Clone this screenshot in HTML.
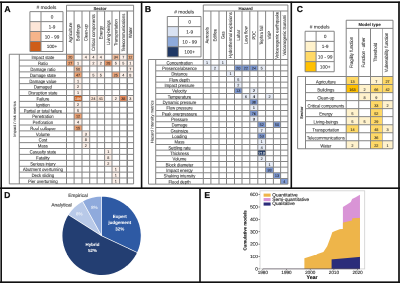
<!DOCTYPE html>
<html><head><meta charset="utf-8"><style>
html,body{margin:0;padding:0;background:#fff;width:400px;height:284px;overflow:hidden;position:relative;font-family:"Liberation Sans", sans-serif;}
</style></head><body>
<div style="position:absolute;left:0;top:0;width:800px;height:568px;transform:scale(0.5);transform-origin:0 0;will-change:transform">
<svg width="800" height="568" viewBox="0 0 400 284" style="position:absolute;left:0;top:0" font-family='"Liberation Sans", sans-serif' text-rendering="geometricPrecision">
<g>
<rect x="0.00" y="0.00" width="400.00" height="284.00" fill="#fff" stroke="none" stroke-width="0"/>
<text transform="translate(7.50,9.00)" font-size="8.60" text-anchor="middle" dominant-baseline="central" font-weight="bold" fill="#111" stroke="#111" stroke-width="0.25" >A</text>
<text transform="translate(46.45,8.70)" font-size="4.90" text-anchor="middle" dominant-baseline="central" font-weight="normal" fill="#222" stroke="#222" stroke-width="0.06" ># models</text>
<rect x="29.90" y="11.60" width="11.10" height="9.98" fill="#ffffff" stroke="none" stroke-width="0"/>
<text transform="translate(52.00,16.79)" font-size="4.70" text-anchor="middle" dominant-baseline="central" font-weight="normal" fill="#222" stroke="#222" stroke-width="0.06" >0</text>
<rect x="29.90" y="21.58" width="11.10" height="9.98" fill="#fde6d8" stroke="none" stroke-width="0"/>
<text transform="translate(52.00,26.77)" font-size="4.70" text-anchor="middle" dominant-baseline="central" font-weight="normal" fill="#222" stroke="#222" stroke-width="0.06" >1-9</text>
<rect x="29.90" y="31.56" width="11.10" height="9.98" fill="#f6b48a" stroke="none" stroke-width="0"/>
<text transform="translate(52.00,36.75)" font-size="4.70" text-anchor="middle" dominant-baseline="central" font-weight="normal" fill="#222" stroke="#222" stroke-width="0.06" >10 - 99</text>
<rect x="29.90" y="41.54" width="11.10" height="9.98" fill="#cf5d18" stroke="none" stroke-width="0"/>
<text transform="translate(52.00,46.73)" font-size="4.70" text-anchor="middle" dominant-baseline="central" font-weight="normal" fill="#222" stroke="#222" stroke-width="0.06" >100+</text>
<line x1="29.90" y1="11.60" x2="63.00" y2="11.60" stroke="#858585" stroke-width="1.0"/>
<line x1="29.90" y1="21.58" x2="63.00" y2="21.58" stroke="#858585" stroke-width="1.0"/>
<line x1="29.90" y1="31.56" x2="63.00" y2="31.56" stroke="#858585" stroke-width="1.0"/>
<line x1="29.90" y1="41.54" x2="63.00" y2="41.54" stroke="#858585" stroke-width="1.0"/>
<line x1="29.90" y1="51.52" x2="63.00" y2="51.52" stroke="#858585" stroke-width="1.0"/>
<line x1="29.90" y1="11.60" x2="29.90" y2="51.52" stroke="#858585" stroke-width="1.0"/>
<line x1="41.00" y1="11.60" x2="41.00" y2="51.52" stroke="#858585" stroke-width="1.0"/>
<line x1="63.00" y1="11.60" x2="63.00" y2="51.52" stroke="#858585" stroke-width="1.0"/>
<rect x="66.50" y="54.20" width="7.60" height="5.90" fill="#f3ae82" stroke="none" stroke-width="0"/>
<rect x="82.00" y="54.20" width="7.70" height="5.90" fill="#fdf1ea" stroke="none" stroke-width="0"/>
<rect x="89.70" y="54.20" width="7.40" height="5.90" fill="#fdf1ea" stroke="none" stroke-width="0"/>
<rect x="97.10" y="54.20" width="7.50" height="5.90" fill="#fdf1ea" stroke="none" stroke-width="0"/>
<rect x="112.00" y="54.20" width="7.60" height="5.90" fill="#f7c3a2" stroke="none" stroke-width="0"/>
<rect x="119.60" y="54.20" width="7.40" height="5.90" fill="#fdf1ea" stroke="none" stroke-width="0"/>
<rect x="127.00" y="54.20" width="6.60" height="5.90" fill="#f5b68c" stroke="none" stroke-width="0"/>
<rect x="66.50" y="60.10" width="7.60" height="5.90" fill="#f1a676" stroke="none" stroke-width="0"/>
<rect x="74.10" y="60.10" width="7.90" height="5.90" fill="#fdf1ea" stroke="none" stroke-width="0"/>
<rect x="89.70" y="60.10" width="7.40" height="5.90" fill="#fdf1ea" stroke="none" stroke-width="0"/>
<rect x="97.10" y="60.10" width="7.50" height="5.90" fill="#fdf1ea" stroke="none" stroke-width="0"/>
<rect x="104.60" y="60.10" width="7.40" height="5.90" fill="#ef9c6a" stroke="none" stroke-width="0"/>
<rect x="112.00" y="60.10" width="7.60" height="5.90" fill="#fdf1ea" stroke="none" stroke-width="0"/>
<rect x="119.60" y="60.10" width="7.40" height="5.90" fill="#fdf1ea" stroke="none" stroke-width="0"/>
<rect x="127.00" y="60.10" width="6.60" height="5.90" fill="#fdf1ea" stroke="none" stroke-width="0"/>
<rect x="74.10" y="65.99" width="7.90" height="5.90" fill="#f6c2a2" stroke="none" stroke-width="0"/>
<rect x="127.00" y="65.99" width="6.60" height="5.90" fill="#fdf1ea" stroke="none" stroke-width="0"/>
<rect x="74.10" y="71.89" width="7.90" height="5.90" fill="#f1a676" stroke="none" stroke-width="0"/>
<rect x="89.70" y="71.89" width="7.40" height="5.90" fill="#fdf1ea" stroke="none" stroke-width="0"/>
<rect x="97.10" y="71.89" width="7.50" height="5.90" fill="#fdf1ea" stroke="none" stroke-width="0"/>
<rect x="112.00" y="71.89" width="7.60" height="5.90" fill="#f3ab80" stroke="none" stroke-width="0"/>
<rect x="119.60" y="71.89" width="7.40" height="5.90" fill="#fdf1ea" stroke="none" stroke-width="0"/>
<rect x="127.00" y="71.89" width="6.60" height="5.90" fill="#fdf1ea" stroke="none" stroke-width="0"/>
<rect x="74.10" y="77.78" width="7.90" height="5.90" fill="#fdf1ea" stroke="none" stroke-width="0"/>
<rect x="74.10" y="83.68" width="7.90" height="5.90" fill="#fdf1ea" stroke="none" stroke-width="0"/>
<rect x="74.10" y="89.57" width="7.90" height="5.90" fill="#fdf1ea" stroke="none" stroke-width="0"/>
<rect x="74.10" y="95.47" width="7.90" height="5.90" fill="#cf5d18" stroke="none" stroke-width="0"/>
<rect x="89.70" y="95.47" width="7.40" height="5.90" fill="#fce6d8" stroke="none" stroke-width="0"/>
<rect x="97.10" y="95.47" width="7.50" height="5.90" fill="#fce6d8" stroke="none" stroke-width="0"/>
<rect x="112.00" y="95.47" width="7.60" height="5.90" fill="#fdf1ea" stroke="none" stroke-width="0"/>
<rect x="119.60" y="95.47" width="7.40" height="5.90" fill="#ee8f5e" stroke="none" stroke-width="0"/>
<rect x="127.00" y="95.47" width="6.60" height="5.90" fill="#fdf1ea" stroke="none" stroke-width="0"/>
<rect x="74.10" y="101.36" width="7.90" height="5.90" fill="#fdf1ea" stroke="none" stroke-width="0"/>
<rect x="74.10" y="107.26" width="7.90" height="5.90" fill="#fdf1ea" stroke="none" stroke-width="0"/>
<rect x="74.10" y="113.15" width="7.90" height="5.90" fill="#f0a272" stroke="none" stroke-width="0"/>
<rect x="74.10" y="119.05" width="7.90" height="5.90" fill="#fdf1ea" stroke="none" stroke-width="0"/>
<rect x="74.10" y="124.95" width="7.90" height="5.90" fill="#f0a272" stroke="none" stroke-width="0"/>
<rect x="82.00" y="130.84" width="7.70" height="5.90" fill="#fdf1ea" stroke="none" stroke-width="0"/>
<rect x="82.00" y="136.74" width="7.70" height="5.90" fill="#fdf1ea" stroke="none" stroke-width="0"/>
<rect x="82.00" y="142.63" width="7.70" height="5.90" fill="#fdf1ea" stroke="none" stroke-width="0"/>
<rect x="104.60" y="148.53" width="7.40" height="5.90" fill="#fdf1ea" stroke="none" stroke-width="0"/>
<rect x="104.60" y="154.42" width="7.40" height="5.90" fill="#fdf1ea" stroke="none" stroke-width="0"/>
<rect x="104.60" y="160.32" width="7.40" height="5.90" fill="#fdf1ea" stroke="none" stroke-width="0"/>
<rect x="112.00" y="166.21" width="7.60" height="5.90" fill="#fdf1ea" stroke="none" stroke-width="0"/>
<rect x="112.00" y="172.11" width="7.60" height="5.90" fill="#fdf1ea" stroke="none" stroke-width="0"/>
<rect x="112.00" y="178.00" width="7.60" height="5.90" fill="#fdf1ea" stroke="none" stroke-width="0"/>
<line x1="66.50" y1="5.30" x2="133.60" y2="5.30" stroke="#858585" stroke-width="1.0"/>
<line x1="66.50" y1="11.00" x2="133.60" y2="11.00" stroke="#858585" stroke-width="1.0"/>
<text transform="translate(100.05,8.45)" font-size="4.25" text-anchor="middle" dominant-baseline="central" font-weight="bold" fill="#222" stroke="#222" stroke-width="0.06" >Sector</text>
<text transform="translate(70.30,32.60) rotate(-90) scale(0.8928571428571428,1.0)" font-size="4.70" text-anchor="middle" dominant-baseline="central" font-weight="normal" fill="#222" stroke="#222" stroke-width="0.06" >Agriculture</text>
<text transform="translate(78.05,32.60) rotate(-90) scale(0.8928571428571428,1.0)" font-size="4.70" text-anchor="middle" dominant-baseline="central" font-weight="normal" fill="#222" stroke="#222" stroke-width="0.06" >Buildings</text>
<text transform="translate(85.85,32.60) rotate(-90) scale(0.8928571428571428,1.0)" font-size="4.70" text-anchor="middle" dominant-baseline="central" font-weight="normal" fill="#222" stroke="#222" stroke-width="0.06" >Clean-up</text>
<text transform="translate(93.40,32.60) rotate(-90) scale(0.8928571428571428,1.0)" font-size="4.70" text-anchor="middle" dominant-baseline="central" font-weight="normal" fill="#222" stroke="#222" stroke-width="0.06" >Critical components</text>
<text transform="translate(100.85,32.60) rotate(-90) scale(0.8928571428571428,1.0)" font-size="4.70" text-anchor="middle" dominant-baseline="central" font-weight="normal" fill="#222" stroke="#222" stroke-width="0.06" >Energy</text>
<text transform="translate(108.30,32.60) rotate(-90) scale(0.8928571428571428,1.0)" font-size="4.70" text-anchor="middle" dominant-baseline="central" font-weight="normal" fill="#222" stroke="#222" stroke-width="0.06" >Living-beings</text>
<text transform="translate(115.80,32.60) rotate(-90) scale(0.8928571428571428,1.0)" font-size="4.70" text-anchor="middle" dominant-baseline="central" font-weight="normal" fill="#222" stroke="#222" stroke-width="0.06" >Transportation</text>
<text transform="translate(123.30,32.60) rotate(-90) scale(0.8928571428571428,1.0)" font-size="4.70" text-anchor="middle" dominant-baseline="central" font-weight="normal" fill="#222" stroke="#222" stroke-width="0.06" >Telecommunications</text>
<text transform="translate(130.30,32.60) rotate(-90) scale(0.8928571428571428,1.0)" font-size="4.70" text-anchor="middle" dominant-baseline="central" font-weight="normal" fill="#222" stroke="#222" stroke-width="0.06" >Water</text>
<line x1="66.50" y1="5.30" x2="66.50" y2="183.90" stroke="#858585" stroke-width="1.0"/>
<line x1="74.10" y1="11.00" x2="74.10" y2="183.90" stroke="#858585" stroke-width="1.0"/>
<line x1="82.00" y1="11.00" x2="82.00" y2="183.90" stroke="#858585" stroke-width="1.0"/>
<line x1="89.70" y1="11.00" x2="89.70" y2="183.90" stroke="#858585" stroke-width="1.0"/>
<line x1="97.10" y1="11.00" x2="97.10" y2="183.90" stroke="#858585" stroke-width="1.0"/>
<line x1="104.60" y1="11.00" x2="104.60" y2="183.90" stroke="#858585" stroke-width="1.0"/>
<line x1="112.00" y1="11.00" x2="112.00" y2="183.90" stroke="#858585" stroke-width="1.0"/>
<line x1="119.60" y1="11.00" x2="119.60" y2="183.90" stroke="#858585" stroke-width="1.0"/>
<line x1="127.00" y1="11.00" x2="127.00" y2="183.90" stroke="#858585" stroke-width="1.0"/>
<line x1="133.60" y1="5.30" x2="133.60" y2="183.90" stroke="#858585" stroke-width="1.0"/>
<line x1="9.30" y1="54.20" x2="133.60" y2="54.20" stroke="#858585" stroke-width="1.0"/>
<line x1="19.30" y1="60.10" x2="133.60" y2="60.10" stroke="#858585" stroke-width="1.0"/>
<line x1="19.30" y1="65.99" x2="133.60" y2="65.99" stroke="#858585" stroke-width="1.0"/>
<line x1="19.30" y1="71.89" x2="133.60" y2="71.89" stroke="#858585" stroke-width="1.0"/>
<line x1="19.30" y1="77.78" x2="133.60" y2="77.78" stroke="#858585" stroke-width="1.0"/>
<line x1="19.30" y1="83.68" x2="133.60" y2="83.68" stroke="#858585" stroke-width="1.0"/>
<line x1="19.30" y1="89.57" x2="133.60" y2="89.57" stroke="#858585" stroke-width="1.0"/>
<line x1="19.30" y1="95.47" x2="133.60" y2="95.47" stroke="#858585" stroke-width="1.0"/>
<line x1="19.30" y1="101.36" x2="133.60" y2="101.36" stroke="#858585" stroke-width="1.0"/>
<line x1="19.30" y1="107.26" x2="133.60" y2="107.26" stroke="#858585" stroke-width="1.0"/>
<line x1="19.30" y1="113.15" x2="133.60" y2="113.15" stroke="#858585" stroke-width="1.0"/>
<line x1="19.30" y1="119.05" x2="133.60" y2="119.05" stroke="#858585" stroke-width="1.0"/>
<line x1="19.30" y1="124.95" x2="133.60" y2="124.95" stroke="#858585" stroke-width="1.0"/>
<line x1="19.30" y1="130.84" x2="133.60" y2="130.84" stroke="#858585" stroke-width="1.0"/>
<line x1="19.30" y1="136.74" x2="133.60" y2="136.74" stroke="#858585" stroke-width="1.0"/>
<line x1="19.30" y1="142.63" x2="133.60" y2="142.63" stroke="#858585" stroke-width="1.0"/>
<line x1="19.30" y1="148.53" x2="133.60" y2="148.53" stroke="#858585" stroke-width="1.0"/>
<line x1="19.30" y1="154.42" x2="133.60" y2="154.42" stroke="#858585" stroke-width="1.0"/>
<line x1="19.30" y1="160.32" x2="133.60" y2="160.32" stroke="#858585" stroke-width="1.0"/>
<line x1="19.30" y1="166.21" x2="133.60" y2="166.21" stroke="#858585" stroke-width="1.0"/>
<line x1="19.30" y1="172.11" x2="133.60" y2="172.11" stroke="#858585" stroke-width="1.0"/>
<line x1="19.30" y1="178.00" x2="133.60" y2="178.00" stroke="#858585" stroke-width="1.0"/>
<line x1="9.30" y1="183.90" x2="133.60" y2="183.90" stroke="#858585" stroke-width="1.0"/>
<line x1="9.30" y1="54.20" x2="9.30" y2="183.90" stroke="#858585" stroke-width="1.0"/>
<line x1="19.30" y1="54.20" x2="19.30" y2="183.90" stroke="#858585" stroke-width="1.0"/>
<text transform="translate(14.30,119.05) rotate(-90)" font-size="4.00" text-anchor="middle" dominant-baseline="central" font-weight="normal" fill="#222" stroke="#222" stroke-width="0.06" >Impact / risk metrics</text>
<text transform="translate(42.90,57.70) scale(0.8928571428571428,1.0)" font-size="4.70" text-anchor="middle" dominant-baseline="central" font-weight="normal" fill="#222" stroke="#222" stroke-width="0.06" >Impact state</text>
<text transform="translate(42.90,63.59) scale(0.8928571428571428,1.0)" font-size="4.70" text-anchor="middle" dominant-baseline="central" font-weight="normal" fill="#222" stroke="#222" stroke-width="0.06" >Ratio</text>
<text transform="translate(42.90,69.49) scale(0.8928571428571428,1.0)" font-size="4.70" text-anchor="middle" dominant-baseline="central" font-weight="normal" fill="#222" stroke="#222" stroke-width="0.06" >Damage ratio</text>
<text transform="translate(42.90,75.38) scale(0.8928571428571428,1.0)" font-size="4.70" text-anchor="middle" dominant-baseline="central" font-weight="normal" fill="#222" stroke="#222" stroke-width="0.06" >Damage state</text>
<text transform="translate(42.90,81.28) scale(0.8928571428571428,1.0)" font-size="4.70" text-anchor="middle" dominant-baseline="central" font-weight="normal" fill="#222" stroke="#222" stroke-width="0.06" >Damage value</text>
<text transform="translate(42.90,87.17) scale(0.8928571428571428,1.0)" font-size="4.70" text-anchor="middle" dominant-baseline="central" font-weight="normal" fill="#222" stroke="#222" stroke-width="0.06" >Damaged</text>
<text transform="translate(42.90,93.07) scale(0.8928571428571428,1.0)" font-size="4.70" text-anchor="middle" dominant-baseline="central" font-weight="normal" fill="#222" stroke="#222" stroke-width="0.06" >Disruption state</text>
<text transform="translate(42.90,98.97) scale(0.8928571428571428,1.0)" font-size="4.70" text-anchor="middle" dominant-baseline="central" font-weight="normal" fill="#222" stroke="#222" stroke-width="0.06" >Failure</text>
<text transform="translate(42.90,104.86) scale(0.8928571428571428,1.0)" font-size="4.70" text-anchor="middle" dominant-baseline="central" font-weight="normal" fill="#222" stroke="#222" stroke-width="0.06" >Ignition</text>
<text transform="translate(42.90,110.76) scale(0.8928571428571428,1.0)" font-size="4.70" text-anchor="middle" dominant-baseline="central" font-weight="normal" fill="#222" stroke="#222" stroke-width="0.06" >Partial or total failure</text>
<text transform="translate(42.90,116.65) scale(0.8928571428571428,1.0)" font-size="4.70" text-anchor="middle" dominant-baseline="central" font-weight="normal" fill="#222" stroke="#222" stroke-width="0.06" >Penetration</text>
<text transform="translate(42.90,122.55) scale(0.8928571428571428,1.0)" font-size="4.70" text-anchor="middle" dominant-baseline="central" font-weight="normal" fill="#222" stroke="#222" stroke-width="0.06" >Perforation</text>
<text transform="translate(42.90,128.44) scale(0.8928571428571428,1.0)" font-size="4.70" text-anchor="middle" dominant-baseline="central" font-weight="normal" fill="#222" stroke="#222" stroke-width="0.06" >Roof collapse</text>
<text transform="translate(42.90,134.34) scale(0.8928571428571428,1.0)" font-size="4.70" text-anchor="middle" dominant-baseline="central" font-weight="normal" fill="#222" stroke="#222" stroke-width="0.06" >Volume</text>
<text transform="translate(42.90,140.23) scale(0.8928571428571428,1.0)" font-size="4.70" text-anchor="middle" dominant-baseline="central" font-weight="normal" fill="#222" stroke="#222" stroke-width="0.06" >Cost</text>
<text transform="translate(42.90,146.13) scale(0.8928571428571428,1.0)" font-size="4.70" text-anchor="middle" dominant-baseline="central" font-weight="normal" fill="#222" stroke="#222" stroke-width="0.06" >Mass</text>
<text transform="translate(42.90,152.03) scale(0.8928571428571428,1.0)" font-size="4.70" text-anchor="middle" dominant-baseline="central" font-weight="normal" fill="#222" stroke="#222" stroke-width="0.06" >Casualty state</text>
<text transform="translate(42.90,157.92) scale(0.8928571428571428,1.0)" font-size="4.70" text-anchor="middle" dominant-baseline="central" font-weight="normal" fill="#222" stroke="#222" stroke-width="0.06" >Fatality</text>
<text transform="translate(42.90,163.82) scale(0.8928571428571428,1.0)" font-size="4.70" text-anchor="middle" dominant-baseline="central" font-weight="normal" fill="#222" stroke="#222" stroke-width="0.06" >Serious injury</text>
<text transform="translate(42.90,169.71) scale(0.8928571428571428,1.0)" font-size="4.70" text-anchor="middle" dominant-baseline="central" font-weight="normal" fill="#222" stroke="#222" stroke-width="0.06" >Abutment overturning</text>
<text transform="translate(42.90,175.61) scale(0.8928571428571428,1.0)" font-size="4.70" text-anchor="middle" dominant-baseline="central" font-weight="normal" fill="#222" stroke="#222" stroke-width="0.06" >Deck sliding</text>
<text transform="translate(42.90,181.50) scale(0.8928571428571428,1.0)" font-size="4.70" text-anchor="middle" dominant-baseline="central" font-weight="normal" fill="#222" stroke="#222" stroke-width="0.06" >Pier overturning</text>
<text transform="translate(70.30,57.70)" font-size="3.80" text-anchor="middle" dominant-baseline="central" font-weight="normal" fill="#222" stroke="#222" stroke-width="0.06" >20</text>
<text transform="translate(85.85,57.70)" font-size="3.80" text-anchor="middle" dominant-baseline="central" font-weight="normal" fill="#222" stroke="#222" stroke-width="0.06" >4</text>
<text transform="translate(93.40,57.70)" font-size="3.80" text-anchor="middle" dominant-baseline="central" font-weight="normal" fill="#222" stroke="#222" stroke-width="0.06" >4</text>
<text transform="translate(100.85,57.70)" font-size="3.80" text-anchor="middle" dominant-baseline="central" font-weight="normal" fill="#222" stroke="#222" stroke-width="0.06" >4</text>
<text transform="translate(115.80,57.70)" font-size="3.80" text-anchor="middle" dominant-baseline="central" font-weight="normal" fill="#222" stroke="#222" stroke-width="0.06" >34</text>
<text transform="translate(123.30,57.70)" font-size="3.80" text-anchor="middle" dominant-baseline="central" font-weight="normal" fill="#222" stroke="#222" stroke-width="0.06" >7</text>
<text transform="translate(130.30,57.70)" font-size="3.80" text-anchor="middle" dominant-baseline="central" font-weight="normal" fill="#222" stroke="#222" stroke-width="0.06" >12</text>
<text transform="translate(70.30,63.59)" font-size="3.80" text-anchor="middle" dominant-baseline="central" font-weight="normal" fill="#222" stroke="#222" stroke-width="0.06" >27</text>
<text transform="translate(78.05,63.59)" font-size="3.80" text-anchor="middle" dominant-baseline="central" font-weight="normal" fill="#222" stroke="#222" stroke-width="0.06" >1</text>
<text transform="translate(93.40,63.59)" font-size="3.80" text-anchor="middle" dominant-baseline="central" font-weight="normal" fill="#222" stroke="#222" stroke-width="0.06" >2</text>
<text transform="translate(100.85,63.59)" font-size="3.80" text-anchor="middle" dominant-baseline="central" font-weight="normal" fill="#222" stroke="#222" stroke-width="0.06" >2</text>
<text transform="translate(108.30,63.59)" font-size="3.80" text-anchor="middle" dominant-baseline="central" font-weight="normal" fill="#222" stroke="#222" stroke-width="0.06" >28</text>
<text transform="translate(115.80,63.59)" font-size="3.80" text-anchor="middle" dominant-baseline="central" font-weight="normal" fill="#222" stroke="#222" stroke-width="0.06" >5</text>
<text transform="translate(123.30,63.59)" font-size="3.80" text-anchor="middle" dominant-baseline="central" font-weight="normal" fill="#222" stroke="#222" stroke-width="0.06" >5</text>
<text transform="translate(130.30,63.59)" font-size="3.80" text-anchor="middle" dominant-baseline="central" font-weight="normal" fill="#222" stroke="#222" stroke-width="0.06" >1</text>
<text transform="translate(78.05,69.49)" font-size="3.80" text-anchor="middle" dominant-baseline="central" font-weight="normal" fill="#222" stroke="#222" stroke-width="0.06" >50</text>
<text transform="translate(130.30,69.49)" font-size="3.80" text-anchor="middle" dominant-baseline="central" font-weight="normal" fill="#222" stroke="#222" stroke-width="0.06" >7</text>
<text transform="translate(78.05,75.38)" font-size="3.80" text-anchor="middle" dominant-baseline="central" font-weight="normal" fill="#222" stroke="#222" stroke-width="0.06" >47</text>
<text transform="translate(93.40,75.38)" font-size="3.80" text-anchor="middle" dominant-baseline="central" font-weight="normal" fill="#222" stroke="#222" stroke-width="0.06" >5</text>
<text transform="translate(100.85,75.38)" font-size="3.80" text-anchor="middle" dominant-baseline="central" font-weight="normal" fill="#222" stroke="#222" stroke-width="0.06" >5</text>
<text transform="translate(115.80,75.38)" font-size="3.80" text-anchor="middle" dominant-baseline="central" font-weight="normal" fill="#222" stroke="#222" stroke-width="0.06" >25</text>
<text transform="translate(123.30,75.38)" font-size="3.80" text-anchor="middle" dominant-baseline="central" font-weight="normal" fill="#222" stroke="#222" stroke-width="0.06" >4</text>
<text transform="translate(130.30,75.38)" font-size="3.80" text-anchor="middle" dominant-baseline="central" font-weight="normal" fill="#222" stroke="#222" stroke-width="0.06" >8</text>
<text transform="translate(78.05,81.28)" font-size="3.80" text-anchor="middle" dominant-baseline="central" font-weight="normal" fill="#222" stroke="#222" stroke-width="0.06" >1</text>
<text transform="translate(78.05,87.17)" font-size="3.80" text-anchor="middle" dominant-baseline="central" font-weight="normal" fill="#222" stroke="#222" stroke-width="0.06" >2</text>
<text transform="translate(78.05,93.07)" font-size="3.80" text-anchor="middle" dominant-baseline="central" font-weight="normal" fill="#222" stroke="#222" stroke-width="0.06" >1</text>
<text transform="translate(78.05,98.97)" font-size="3.80" text-anchor="middle" dominant-baseline="central" font-weight="normal" fill="#fff" stroke="#fff" stroke-width="0.06" >186</text>
<text transform="translate(93.40,98.97)" font-size="3.80" text-anchor="middle" dominant-baseline="central" font-weight="normal" fill="#222" stroke="#222" stroke-width="0.06" >24</text>
<text transform="translate(100.85,98.97)" font-size="3.80" text-anchor="middle" dominant-baseline="central" font-weight="normal" fill="#222" stroke="#222" stroke-width="0.06" >41</text>
<text transform="translate(115.80,98.97)" font-size="3.80" text-anchor="middle" dominant-baseline="central" font-weight="normal" fill="#222" stroke="#222" stroke-width="0.06" >2</text>
<text transform="translate(123.30,98.97)" font-size="3.80" text-anchor="middle" dominant-baseline="central" font-weight="normal" fill="#222" stroke="#222" stroke-width="0.06" >38</text>
<text transform="translate(130.30,98.97)" font-size="3.80" text-anchor="middle" dominant-baseline="central" font-weight="normal" fill="#222" stroke="#222" stroke-width="0.06" >3</text>
<text transform="translate(78.05,104.86)" font-size="3.80" text-anchor="middle" dominant-baseline="central" font-weight="normal" fill="#222" stroke="#222" stroke-width="0.06" >2</text>
<text transform="translate(78.05,110.76)" font-size="3.80" text-anchor="middle" dominant-baseline="central" font-weight="normal" fill="#222" stroke="#222" stroke-width="0.06" >5</text>
<text transform="translate(78.05,116.65)" font-size="3.80" text-anchor="middle" dominant-baseline="central" font-weight="normal" fill="#222" stroke="#222" stroke-width="0.06" >12</text>
<text transform="translate(78.05,122.55)" font-size="3.80" text-anchor="middle" dominant-baseline="central" font-weight="normal" fill="#222" stroke="#222" stroke-width="0.06" >4</text>
<text transform="translate(78.05,128.44)" font-size="3.80" text-anchor="middle" dominant-baseline="central" font-weight="normal" fill="#222" stroke="#222" stroke-width="0.06" >15</text>
<text transform="translate(85.85,134.34)" font-size="3.80" text-anchor="middle" dominant-baseline="central" font-weight="normal" fill="#222" stroke="#222" stroke-width="0.06" >3</text>
<text transform="translate(85.85,140.23)" font-size="3.80" text-anchor="middle" dominant-baseline="central" font-weight="normal" fill="#222" stroke="#222" stroke-width="0.06" >8</text>
<text transform="translate(85.85,146.13)" font-size="3.80" text-anchor="middle" dominant-baseline="central" font-weight="normal" fill="#222" stroke="#222" stroke-width="0.06" >2</text>
<text transform="translate(108.30,152.03)" font-size="3.80" text-anchor="middle" dominant-baseline="central" font-weight="normal" fill="#222" stroke="#222" stroke-width="0.06" >1</text>
<text transform="translate(108.30,157.92)" font-size="3.80" text-anchor="middle" dominant-baseline="central" font-weight="normal" fill="#222" stroke="#222" stroke-width="0.06" >8</text>
<text transform="translate(108.30,163.82)" font-size="3.80" text-anchor="middle" dominant-baseline="central" font-weight="normal" fill="#222" stroke="#222" stroke-width="0.06" >2</text>
<text transform="translate(115.80,169.71)" font-size="3.80" text-anchor="middle" dominant-baseline="central" font-weight="normal" fill="#222" stroke="#222" stroke-width="0.06" >1</text>
<text transform="translate(115.80,175.61)" font-size="3.80" text-anchor="middle" dominant-baseline="central" font-weight="normal" fill="#222" stroke="#222" stroke-width="0.06" >1</text>
<text transform="translate(115.80,181.50)" font-size="3.80" text-anchor="middle" dominant-baseline="central" font-weight="normal" fill="#222" stroke="#222" stroke-width="0.06" >1</text>
<text transform="translate(148.00,9.00)" font-size="8.60" text-anchor="middle" dominant-baseline="central" font-weight="bold" fill="#111" stroke="#111" stroke-width="0.25" >B</text>
<text transform="translate(184.15,13.00)" font-size="4.90" text-anchor="middle" dominant-baseline="central" font-weight="normal" fill="#222" stroke="#222" stroke-width="0.06" ># models</text>
<rect x="167.30" y="16.50" width="11.10" height="10.10" fill="#ffffff" stroke="none" stroke-width="0"/>
<text transform="translate(189.70,21.75)" font-size="4.70" text-anchor="middle" dominant-baseline="central" font-weight="normal" fill="#222" stroke="#222" stroke-width="0.06" >0</text>
<rect x="167.30" y="26.60" width="11.10" height="10.10" fill="#dae3f3" stroke="none" stroke-width="0"/>
<text transform="translate(189.70,31.85)" font-size="4.70" text-anchor="middle" dominant-baseline="central" font-weight="normal" fill="#222" stroke="#222" stroke-width="0.06" >1-9</text>
<rect x="167.30" y="36.70" width="11.10" height="10.10" fill="#8eaadb" stroke="none" stroke-width="0"/>
<text transform="translate(189.70,41.95)" font-size="4.70" text-anchor="middle" dominant-baseline="central" font-weight="normal" fill="#222" stroke="#222" stroke-width="0.06" >10 - 99</text>
<rect x="167.30" y="46.80" width="11.10" height="10.10" fill="#1f3864" stroke="none" stroke-width="0"/>
<text transform="translate(189.70,52.05)" font-size="4.70" text-anchor="middle" dominant-baseline="central" font-weight="normal" fill="#222" stroke="#222" stroke-width="0.06" >100+</text>
<line x1="167.30" y1="16.50" x2="201.00" y2="16.50" stroke="#858585" stroke-width="1.0"/>
<line x1="167.30" y1="26.60" x2="201.00" y2="26.60" stroke="#858585" stroke-width="1.0"/>
<line x1="167.30" y1="36.70" x2="201.00" y2="36.70" stroke="#858585" stroke-width="1.0"/>
<line x1="167.30" y1="46.80" x2="201.00" y2="46.80" stroke="#858585" stroke-width="1.0"/>
<line x1="167.30" y1="56.90" x2="201.00" y2="56.90" stroke="#858585" stroke-width="1.0"/>
<line x1="167.30" y1="16.50" x2="167.30" y2="56.90" stroke="#858585" stroke-width="1.0"/>
<line x1="178.40" y1="16.50" x2="178.40" y2="56.90" stroke="#858585" stroke-width="1.0"/>
<line x1="201.00" y1="16.50" x2="201.00" y2="56.90" stroke="#858585" stroke-width="1.0"/>
<rect x="203.30" y="59.50" width="7.60" height="5.66" fill="#e9eef8" stroke="none" stroke-width="0"/>
<rect x="219.00" y="59.50" width="7.50" height="5.66" fill="#e9eef8" stroke="none" stroke-width="0"/>
<rect x="210.90" y="65.16" width="8.10" height="5.66" fill="#e9eef8" stroke="none" stroke-width="0"/>
<rect x="234.50" y="65.16" width="7.50" height="5.66" fill="#7f9bd6" stroke="none" stroke-width="0"/>
<rect x="242.00" y="65.16" width="7.80" height="5.66" fill="#7f9bd6" stroke="none" stroke-width="0"/>
<rect x="249.80" y="65.16" width="8.00" height="5.66" fill="#7f9bd6" stroke="none" stroke-width="0"/>
<rect x="257.80" y="65.16" width="7.80" height="5.66" fill="#e9eef8" stroke="none" stroke-width="0"/>
<rect x="226.50" y="70.83" width="8.00" height="5.66" fill="#e9eef8" stroke="none" stroke-width="0"/>
<rect x="234.50" y="76.49" width="7.50" height="5.66" fill="#e9eef8" stroke="none" stroke-width="0"/>
<rect x="234.50" y="82.15" width="7.50" height="5.66" fill="#e9eef8" stroke="none" stroke-width="0"/>
<rect x="234.50" y="87.82" width="7.50" height="5.66" fill="#7f9bd6" stroke="none" stroke-width="0"/>
<rect x="249.80" y="87.82" width="8.00" height="5.66" fill="#e9eef8" stroke="none" stroke-width="0"/>
<rect x="242.00" y="93.48" width="7.80" height="5.66" fill="#e9eef8" stroke="none" stroke-width="0"/>
<rect x="249.80" y="93.48" width="8.00" height="5.66" fill="#e9eef8" stroke="none" stroke-width="0"/>
<rect x="265.60" y="93.48" width="7.80" height="5.66" fill="#e9eef8" stroke="none" stroke-width="0"/>
<rect x="249.80" y="99.15" width="8.00" height="5.66" fill="#7f9bd6" stroke="none" stroke-width="0"/>
<rect x="249.80" y="104.81" width="8.00" height="5.66" fill="#e9eef8" stroke="none" stroke-width="0"/>
<rect x="249.80" y="110.47" width="8.00" height="5.66" fill="#7f9bd6" stroke="none" stroke-width="0"/>
<rect x="249.80" y="116.14" width="8.00" height="5.66" fill="#e9eef8" stroke="none" stroke-width="0"/>
<rect x="257.80" y="121.80" width="7.80" height="5.66" fill="#7f9bd6" stroke="none" stroke-width="0"/>
<rect x="273.40" y="121.80" width="7.20" height="5.66" fill="#7f9bd6" stroke="none" stroke-width="0"/>
<rect x="257.80" y="127.46" width="7.80" height="5.66" fill="#e9eef8" stroke="none" stroke-width="0"/>
<rect x="257.80" y="133.13" width="7.80" height="5.66" fill="#7f9bd6" stroke="none" stroke-width="0"/>
<rect x="257.80" y="138.79" width="7.80" height="5.66" fill="#e9eef8" stroke="none" stroke-width="0"/>
<rect x="257.80" y="144.45" width="7.80" height="5.66" fill="#e9eef8" stroke="none" stroke-width="0"/>
<rect x="257.80" y="150.12" width="7.80" height="5.66" fill="#1f3864" stroke="none" stroke-width="0"/>
<rect x="257.80" y="155.78" width="7.80" height="5.66" fill="#e9eef8" stroke="none" stroke-width="0"/>
<rect x="265.60" y="161.45" width="7.80" height="5.66" fill="#e9eef8" stroke="none" stroke-width="0"/>
<rect x="265.60" y="167.11" width="7.80" height="5.66" fill="#7f9bd6" stroke="none" stroke-width="0"/>
<rect x="273.40" y="172.77" width="7.20" height="5.66" fill="#7f9bd6" stroke="none" stroke-width="0"/>
<rect x="280.60" y="178.44" width="7.30" height="5.66" fill="#7f9bd6" stroke="none" stroke-width="0"/>
<line x1="203.30" y1="5.00" x2="287.90" y2="5.00" stroke="#858585" stroke-width="1.0"/>
<line x1="203.30" y1="11.00" x2="287.90" y2="11.00" stroke="#858585" stroke-width="1.0"/>
<text transform="translate(245.60,8.30)" font-size="4.25" text-anchor="middle" dominant-baseline="central" font-weight="bold" fill="#222" stroke="#222" stroke-width="0.06" >Hazard</text>
<text transform="translate(207.10,35.25) rotate(-90) scale(0.8928571428571428,1.0)" font-size="4.70" text-anchor="middle" dominant-baseline="central" font-weight="normal" fill="#222" stroke="#222" stroke-width="0.06" >Aerosols</text>
<text transform="translate(214.95,35.25) rotate(-90) scale(0.8928571428571428,1.0)" font-size="4.70" text-anchor="middle" dominant-baseline="central" font-weight="normal" fill="#222" stroke="#222" stroke-width="0.06" >Edifice</text>
<text transform="translate(222.75,35.25) rotate(-90) scale(0.8928571428571428,1.0)" font-size="4.70" text-anchor="middle" dominant-baseline="central" font-weight="normal" fill="#222" stroke="#222" stroke-width="0.06" >Gas</text>
<text transform="translate(230.50,35.25) rotate(-90) scale(0.8928571428571428,1.0)" font-size="4.70" text-anchor="middle" dominant-baseline="central" font-weight="normal" fill="#222" stroke="#222" stroke-width="0.06" >Hydrothermal explosions</text>
<text transform="translate(238.25,35.25) rotate(-90) scale(0.8928571428571428,1.0)" font-size="4.70" text-anchor="middle" dominant-baseline="central" font-weight="normal" fill="#222" stroke="#222" stroke-width="0.06" >Lahar</text>
<text transform="translate(245.90,35.25) rotate(-90) scale(0.8928571428571428,1.0)" font-size="4.70" text-anchor="middle" dominant-baseline="central" font-weight="normal" fill="#222" stroke="#222" stroke-width="0.06" >Lava flow</text>
<text transform="translate(253.80,35.25) rotate(-90) scale(0.8928571428571428,1.0)" font-size="4.70" text-anchor="middle" dominant-baseline="central" font-weight="normal" fill="#222" stroke="#222" stroke-width="0.06" >PDC</text>
<text transform="translate(261.70,35.25) rotate(-90) scale(0.8928571428571428,1.0)" font-size="4.70" text-anchor="middle" dominant-baseline="central" font-weight="normal" fill="#222" stroke="#222" stroke-width="0.06" >Tephra fall</text>
<text transform="translate(269.50,35.25) rotate(-90) scale(0.8928571428571428,1.0)" font-size="4.70" text-anchor="middle" dominant-baseline="central" font-weight="normal" fill="#222" stroke="#222" stroke-width="0.06" >VBP</text>
<text transform="translate(277.00,35.25) rotate(-90) scale(0.8928571428571428,1.0)" font-size="4.70" text-anchor="middle" dominant-baseline="central" font-weight="normal" fill="#222" stroke="#222" stroke-width="0.06" >Volcanogenic earthquake</text>
<text transform="translate(284.25,35.25) rotate(-90) scale(0.8928571428571428,1.0)" font-size="4.70" text-anchor="middle" dominant-baseline="central" font-weight="normal" fill="#222" stroke="#222" stroke-width="0.06" >Volcanogenic tsunami</text>
<line x1="203.30" y1="5.00" x2="203.30" y2="184.10" stroke="#858585" stroke-width="1.0"/>
<line x1="210.90" y1="11.00" x2="210.90" y2="184.10" stroke="#858585" stroke-width="1.0"/>
<line x1="219.00" y1="11.00" x2="219.00" y2="184.10" stroke="#858585" stroke-width="1.0"/>
<line x1="226.50" y1="11.00" x2="226.50" y2="184.10" stroke="#858585" stroke-width="1.0"/>
<line x1="234.50" y1="11.00" x2="234.50" y2="184.10" stroke="#858585" stroke-width="1.0"/>
<line x1="242.00" y1="11.00" x2="242.00" y2="184.10" stroke="#858585" stroke-width="1.0"/>
<line x1="249.80" y1="11.00" x2="249.80" y2="184.10" stroke="#858585" stroke-width="1.0"/>
<line x1="257.80" y1="11.00" x2="257.80" y2="184.10" stroke="#858585" stroke-width="1.0"/>
<line x1="265.60" y1="11.00" x2="265.60" y2="184.10" stroke="#858585" stroke-width="1.0"/>
<line x1="273.40" y1="11.00" x2="273.40" y2="184.10" stroke="#858585" stroke-width="1.0"/>
<line x1="280.60" y1="11.00" x2="280.60" y2="184.10" stroke="#858585" stroke-width="1.0"/>
<line x1="287.90" y1="5.00" x2="287.90" y2="184.10" stroke="#858585" stroke-width="1.0"/>
<line x1="148.50" y1="59.50" x2="287.90" y2="59.50" stroke="#858585" stroke-width="1.0"/>
<line x1="155.70" y1="65.16" x2="287.90" y2="65.16" stroke="#858585" stroke-width="1.0"/>
<line x1="155.70" y1="70.83" x2="287.90" y2="70.83" stroke="#858585" stroke-width="1.0"/>
<line x1="155.70" y1="76.49" x2="287.90" y2="76.49" stroke="#858585" stroke-width="1.0"/>
<line x1="155.70" y1="82.15" x2="287.90" y2="82.15" stroke="#858585" stroke-width="1.0"/>
<line x1="155.70" y1="87.82" x2="287.90" y2="87.82" stroke="#858585" stroke-width="1.0"/>
<line x1="155.70" y1="93.48" x2="287.90" y2="93.48" stroke="#858585" stroke-width="1.0"/>
<line x1="155.70" y1="99.15" x2="287.90" y2="99.15" stroke="#858585" stroke-width="1.0"/>
<line x1="155.70" y1="104.81" x2="287.90" y2="104.81" stroke="#858585" stroke-width="1.0"/>
<line x1="155.70" y1="110.47" x2="287.90" y2="110.47" stroke="#858585" stroke-width="1.0"/>
<line x1="155.70" y1="116.14" x2="287.90" y2="116.14" stroke="#858585" stroke-width="1.0"/>
<line x1="155.70" y1="121.80" x2="287.90" y2="121.80" stroke="#858585" stroke-width="1.0"/>
<line x1="155.70" y1="127.46" x2="287.90" y2="127.46" stroke="#858585" stroke-width="1.0"/>
<line x1="155.70" y1="133.13" x2="287.90" y2="133.13" stroke="#858585" stroke-width="1.0"/>
<line x1="155.70" y1="138.79" x2="287.90" y2="138.79" stroke="#858585" stroke-width="1.0"/>
<line x1="155.70" y1="144.45" x2="287.90" y2="144.45" stroke="#858585" stroke-width="1.0"/>
<line x1="155.70" y1="150.12" x2="287.90" y2="150.12" stroke="#858585" stroke-width="1.0"/>
<line x1="155.70" y1="155.78" x2="287.90" y2="155.78" stroke="#858585" stroke-width="1.0"/>
<line x1="155.70" y1="161.45" x2="287.90" y2="161.45" stroke="#858585" stroke-width="1.0"/>
<line x1="155.70" y1="167.11" x2="287.90" y2="167.11" stroke="#858585" stroke-width="1.0"/>
<line x1="155.70" y1="172.77" x2="287.90" y2="172.77" stroke="#858585" stroke-width="1.0"/>
<line x1="155.70" y1="178.44" x2="287.90" y2="178.44" stroke="#858585" stroke-width="1.0"/>
<line x1="148.50" y1="184.10" x2="287.90" y2="184.10" stroke="#858585" stroke-width="1.0"/>
<line x1="148.50" y1="59.50" x2="148.50" y2="184.10" stroke="#858585" stroke-width="1.0"/>
<line x1="155.70" y1="59.50" x2="155.70" y2="184.10" stroke="#858585" stroke-width="1.0"/>
<text transform="translate(152.10,121.80) rotate(-90)" font-size="4.00" text-anchor="middle" dominant-baseline="central" font-weight="normal" fill="#222" stroke="#222" stroke-width="0.06" >Hazard intensity metrics</text>
<text transform="translate(179.50,62.88) scale(0.8928571428571428,1.0)" font-size="4.70" text-anchor="middle" dominant-baseline="central" font-weight="normal" fill="#222" stroke="#222" stroke-width="0.06" >Concentration</text>
<text transform="translate(179.50,68.55) scale(0.8928571428571428,1.0)" font-size="4.70" text-anchor="middle" dominant-baseline="central" font-weight="normal" fill="#222" stroke="#222" stroke-width="0.06" >Presence/absence</text>
<text transform="translate(179.50,74.21) scale(0.8928571428571428,1.0)" font-size="4.70" text-anchor="middle" dominant-baseline="central" font-weight="normal" fill="#222" stroke="#222" stroke-width="0.06" >Distance</text>
<text transform="translate(179.50,79.87) scale(0.8928571428571428,1.0)" font-size="4.70" text-anchor="middle" dominant-baseline="central" font-weight="normal" fill="#222" stroke="#222" stroke-width="0.06" >Flow depth</text>
<text transform="translate(179.50,85.54) scale(0.8928571428571428,1.0)" font-size="4.70" text-anchor="middle" dominant-baseline="central" font-weight="normal" fill="#222" stroke="#222" stroke-width="0.06" >Impact pressure</text>
<text transform="translate(179.50,91.20) scale(0.8928571428571428,1.0)" font-size="4.70" text-anchor="middle" dominant-baseline="central" font-weight="normal" fill="#222" stroke="#222" stroke-width="0.06" >Velocity</text>
<text transform="translate(179.50,96.86) scale(0.8928571428571428,1.0)" font-size="4.70" text-anchor="middle" dominant-baseline="central" font-weight="normal" fill="#222" stroke="#222" stroke-width="0.06" >Temperature</text>
<text transform="translate(179.50,102.53) scale(0.8928571428571428,1.0)" font-size="4.70" text-anchor="middle" dominant-baseline="central" font-weight="normal" fill="#222" stroke="#222" stroke-width="0.06" >Dynamic pressure</text>
<text transform="translate(179.50,108.19) scale(0.8928571428571428,1.0)" font-size="4.70" text-anchor="middle" dominant-baseline="central" font-weight="normal" fill="#222" stroke="#222" stroke-width="0.06" >Flow pressure</text>
<text transform="translate(179.50,113.85) scale(0.8928571428571428,1.0)" font-size="4.70" text-anchor="middle" dominant-baseline="central" font-weight="normal" fill="#222" stroke="#222" stroke-width="0.06" >Peak overpressure</text>
<text transform="translate(179.50,119.52) scale(0.8928571428571428,1.0)" font-size="4.70" text-anchor="middle" dominant-baseline="central" font-weight="normal" fill="#222" stroke="#222" stroke-width="0.06" >Pressure</text>
<text transform="translate(179.50,125.18) scale(0.8928571428571428,1.0)" font-size="4.70" text-anchor="middle" dominant-baseline="central" font-weight="normal" fill="#222" stroke="#222" stroke-width="0.06" >Damage</text>
<text transform="translate(179.50,130.85) scale(0.8928571428571428,1.0)" font-size="4.70" text-anchor="middle" dominant-baseline="central" font-weight="normal" fill="#222" stroke="#222" stroke-width="0.06" >Grainsize</text>
<text transform="translate(179.50,136.51) scale(0.8928571428571428,1.0)" font-size="4.70" text-anchor="middle" dominant-baseline="central" font-weight="normal" fill="#222" stroke="#222" stroke-width="0.06" >Loading</text>
<text transform="translate(179.50,142.17) scale(0.8928571428571428,1.0)" font-size="4.70" text-anchor="middle" dominant-baseline="central" font-weight="normal" fill="#222" stroke="#222" stroke-width="0.06" >Mass</text>
<text transform="translate(179.50,147.84) scale(0.8928571428571428,1.0)" font-size="4.70" text-anchor="middle" dominant-baseline="central" font-weight="normal" fill="#222" stroke="#222" stroke-width="0.06" >Settling rate</text>
<text transform="translate(179.50,153.50) scale(0.8928571428571428,1.0)" font-size="4.70" text-anchor="middle" dominant-baseline="central" font-weight="normal" fill="#222" stroke="#222" stroke-width="0.06" >Thickness</text>
<text transform="translate(179.50,159.16) scale(0.8928571428571428,1.0)" font-size="4.70" text-anchor="middle" dominant-baseline="central" font-weight="normal" fill="#222" stroke="#222" stroke-width="0.06" >Volume</text>
<text transform="translate(179.50,164.83) scale(0.8928571428571428,1.0)" font-size="4.70" text-anchor="middle" dominant-baseline="central" font-weight="normal" fill="#222" stroke="#222" stroke-width="0.06" >Block diameter</text>
<text transform="translate(179.50,170.49) scale(0.8928571428571428,1.0)" font-size="4.70" text-anchor="middle" dominant-baseline="central" font-weight="normal" fill="#222" stroke="#222" stroke-width="0.06" >Impact energy</text>
<text transform="translate(179.50,176.15) scale(0.8928571428571428,1.0)" font-size="4.70" text-anchor="middle" dominant-baseline="central" font-weight="normal" fill="#222" stroke="#222" stroke-width="0.06" >Shaking intensity</text>
<text transform="translate(179.50,181.82) scale(0.8928571428571428,1.0)" font-size="4.70" text-anchor="middle" dominant-baseline="central" font-weight="normal" fill="#222" stroke="#222" stroke-width="0.06" >Flood depth</text>
<text transform="translate(207.10,62.88)" font-size="3.80" text-anchor="middle" dominant-baseline="central" font-weight="normal" fill="#222" stroke="#222" stroke-width="0.06" >1</text>
<text transform="translate(222.75,62.88)" font-size="3.80" text-anchor="middle" dominant-baseline="central" font-weight="normal" fill="#222" stroke="#222" stroke-width="0.06" >1</text>
<text transform="translate(214.95,68.55)" font-size="3.80" text-anchor="middle" dominant-baseline="central" font-weight="normal" fill="#222" stroke="#222" stroke-width="0.06" >2</text>
<text transform="translate(238.25,68.55)" font-size="3.80" text-anchor="middle" dominant-baseline="central" font-weight="normal" fill="#222" stroke="#222" stroke-width="0.06" >20</text>
<text transform="translate(245.90,68.55)" font-size="3.80" text-anchor="middle" dominant-baseline="central" font-weight="normal" fill="#222" stroke="#222" stroke-width="0.06" >22</text>
<text transform="translate(253.80,68.55)" font-size="3.80" text-anchor="middle" dominant-baseline="central" font-weight="normal" fill="#222" stroke="#222" stroke-width="0.06" >24</text>
<text transform="translate(261.70,68.55)" font-size="3.80" text-anchor="middle" dominant-baseline="central" font-weight="normal" fill="#222" stroke="#222" stroke-width="0.06" >5</text>
<text transform="translate(230.50,74.21)" font-size="3.80" text-anchor="middle" dominant-baseline="central" font-weight="normal" fill="#222" stroke="#222" stroke-width="0.06" >1</text>
<text transform="translate(238.25,79.87)" font-size="3.80" text-anchor="middle" dominant-baseline="central" font-weight="normal" fill="#222" stroke="#222" stroke-width="0.06" >5</text>
<text transform="translate(238.25,85.54)" font-size="3.80" text-anchor="middle" dominant-baseline="central" font-weight="normal" fill="#222" stroke="#222" stroke-width="0.06" >2</text>
<text transform="translate(238.25,91.20)" font-size="3.80" text-anchor="middle" dominant-baseline="central" font-weight="normal" fill="#222" stroke="#222" stroke-width="0.06" >13</text>
<text transform="translate(253.80,91.20)" font-size="3.80" text-anchor="middle" dominant-baseline="central" font-weight="normal" fill="#222" stroke="#222" stroke-width="0.06" >2</text>
<text transform="translate(245.90,96.86)" font-size="3.80" text-anchor="middle" dominant-baseline="central" font-weight="normal" fill="#222" stroke="#222" stroke-width="0.06" >6</text>
<text transform="translate(253.80,96.86)" font-size="3.80" text-anchor="middle" dominant-baseline="central" font-weight="normal" fill="#222" stroke="#222" stroke-width="0.06" >4</text>
<text transform="translate(269.50,96.86)" font-size="3.80" text-anchor="middle" dominant-baseline="central" font-weight="normal" fill="#222" stroke="#222" stroke-width="0.06" >2</text>
<text transform="translate(253.80,102.53)" font-size="3.80" text-anchor="middle" dominant-baseline="central" font-weight="normal" fill="#222" stroke="#222" stroke-width="0.06" >30</text>
<text transform="translate(253.80,108.19)" font-size="3.80" text-anchor="middle" dominant-baseline="central" font-weight="normal" fill="#222" stroke="#222" stroke-width="0.06" >1</text>
<text transform="translate(253.80,113.85)" font-size="3.80" text-anchor="middle" dominant-baseline="central" font-weight="normal" fill="#222" stroke="#222" stroke-width="0.06" >76</text>
<text transform="translate(253.80,119.52)" font-size="3.80" text-anchor="middle" dominant-baseline="central" font-weight="normal" fill="#222" stroke="#222" stroke-width="0.06" >9</text>
<text transform="translate(261.70,125.18)" font-size="3.80" text-anchor="middle" dominant-baseline="central" font-weight="normal" fill="#222" stroke="#222" stroke-width="0.06" >52</text>
<text transform="translate(277.00,125.18)" font-size="3.80" text-anchor="middle" dominant-baseline="central" font-weight="normal" fill="#222" stroke="#222" stroke-width="0.06" >50</text>
<text transform="translate(261.70,130.85)" font-size="3.80" text-anchor="middle" dominant-baseline="central" font-weight="normal" fill="#222" stroke="#222" stroke-width="0.06" >7</text>
<text transform="translate(261.70,136.51)" font-size="3.80" text-anchor="middle" dominant-baseline="central" font-weight="normal" fill="#222" stroke="#222" stroke-width="0.06" >53</text>
<text transform="translate(261.70,142.17)" font-size="3.80" text-anchor="middle" dominant-baseline="central" font-weight="normal" fill="#222" stroke="#222" stroke-width="0.06" >1</text>
<text transform="translate(261.70,147.84)" font-size="3.80" text-anchor="middle" dominant-baseline="central" font-weight="normal" fill="#222" stroke="#222" stroke-width="0.06" >4</text>
<text transform="translate(261.70,153.50)" font-size="3.80" text-anchor="middle" dominant-baseline="central" font-weight="normal" fill="#fff" stroke="#fff" stroke-width="0.06" >218</text>
<text transform="translate(261.70,159.16)" font-size="3.80" text-anchor="middle" dominant-baseline="central" font-weight="normal" fill="#222" stroke="#222" stroke-width="0.06" >2</text>
<text transform="translate(269.50,164.83)" font-size="3.80" text-anchor="middle" dominant-baseline="central" font-weight="normal" fill="#222" stroke="#222" stroke-width="0.06" >1</text>
<text transform="translate(269.50,170.49)" font-size="3.80" text-anchor="middle" dominant-baseline="central" font-weight="normal" fill="#222" stroke="#222" stroke-width="0.06" >38</text>
<text transform="translate(277.00,176.15)" font-size="3.80" text-anchor="middle" dominant-baseline="central" font-weight="normal" fill="#222" stroke="#222" stroke-width="0.06" >13</text>
<text transform="translate(284.25,181.82)" font-size="3.80" text-anchor="middle" dominant-baseline="central" font-weight="normal" fill="#222" stroke="#222" stroke-width="0.06" >4</text>
<text transform="translate(299.80,9.20)" font-size="8.60" text-anchor="middle" dominant-baseline="central" font-weight="bold" fill="#111" stroke="#111" stroke-width="0.25" >C</text>
<text transform="translate(319.65,28.00)" font-size="4.90" text-anchor="middle" dominant-baseline="central" font-weight="normal" fill="#222" stroke="#222" stroke-width="0.06" ># models</text>
<rect x="305.10" y="31.30" width="11.00" height="10.10" fill="#ffffff" stroke="none" stroke-width="0"/>
<text transform="translate(325.15,36.55)" font-size="4.70" text-anchor="middle" dominant-baseline="central" font-weight="normal" fill="#222" stroke="#222" stroke-width="0.06" >0</text>
<rect x="305.10" y="41.40" width="11.00" height="10.10" fill="#fff2cc" stroke="none" stroke-width="0"/>
<text transform="translate(325.15,46.65)" font-size="4.70" text-anchor="middle" dominant-baseline="central" font-weight="normal" fill="#222" stroke="#222" stroke-width="0.06" >1-9</text>
<rect x="305.10" y="51.50" width="11.00" height="10.10" fill="#ffd966" stroke="none" stroke-width="0"/>
<text transform="translate(325.15,56.75)" font-size="4.70" text-anchor="middle" dominant-baseline="central" font-weight="normal" fill="#222" stroke="#222" stroke-width="0.06" >10 - 99</text>
<rect x="305.10" y="61.60" width="11.00" height="10.10" fill="#ffc000" stroke="none" stroke-width="0"/>
<text transform="translate(325.15,66.85)" font-size="4.70" text-anchor="middle" dominant-baseline="central" font-weight="normal" fill="#222" stroke="#222" stroke-width="0.06" >100+</text>
<line x1="305.10" y1="31.30" x2="334.20" y2="31.30" stroke="#858585" stroke-width="1.0"/>
<line x1="305.10" y1="41.40" x2="334.20" y2="41.40" stroke="#858585" stroke-width="1.0"/>
<line x1="305.10" y1="51.50" x2="334.20" y2="51.50" stroke="#858585" stroke-width="1.0"/>
<line x1="305.10" y1="61.60" x2="334.20" y2="61.60" stroke="#858585" stroke-width="1.0"/>
<line x1="305.10" y1="71.70" x2="334.20" y2="71.70" stroke="#858585" stroke-width="1.0"/>
<line x1="305.10" y1="31.30" x2="305.10" y2="71.70" stroke="#858585" stroke-width="1.0"/>
<line x1="316.10" y1="31.30" x2="316.10" y2="71.70" stroke="#858585" stroke-width="1.0"/>
<line x1="334.20" y1="31.30" x2="334.20" y2="71.70" stroke="#858585" stroke-width="1.0"/>
<rect x="346.20" y="76.50" width="12.50" height="8.03" fill="#ffd966" stroke="none" stroke-width="0"/>
<rect x="370.50" y="76.50" width="11.60" height="8.03" fill="#fff2cc" stroke="none" stroke-width="0"/>
<rect x="382.10" y="76.50" width="10.90" height="8.03" fill="#ffd966" stroke="none" stroke-width="0"/>
<rect x="346.20" y="84.53" width="12.50" height="8.03" fill="#ffc000" stroke="none" stroke-width="0"/>
<rect x="358.70" y="84.53" width="11.80" height="8.03" fill="#fff2cc" stroke="none" stroke-width="0"/>
<rect x="370.50" y="84.53" width="11.60" height="8.03" fill="#ffd966" stroke="none" stroke-width="0"/>
<rect x="382.10" y="84.53" width="10.90" height="8.03" fill="#ffd966" stroke="none" stroke-width="0"/>
<rect x="358.70" y="92.57" width="11.80" height="8.03" fill="#fff2cc" stroke="none" stroke-width="0"/>
<rect x="370.50" y="92.57" width="11.60" height="8.03" fill="#fff2cc" stroke="none" stroke-width="0"/>
<rect x="370.50" y="100.60" width="11.60" height="8.03" fill="#ffd966" stroke="none" stroke-width="0"/>
<rect x="382.10" y="100.60" width="10.90" height="8.03" fill="#fff2cc" stroke="none" stroke-width="0"/>
<rect x="346.20" y="108.63" width="12.50" height="8.03" fill="#fff2cc" stroke="none" stroke-width="0"/>
<rect x="370.50" y="108.63" width="11.60" height="8.03" fill="#ffd966" stroke="none" stroke-width="0"/>
<rect x="346.20" y="116.67" width="12.50" height="8.03" fill="#fff2cc" stroke="none" stroke-width="0"/>
<rect x="358.70" y="116.67" width="11.80" height="8.03" fill="#fff2cc" stroke="none" stroke-width="0"/>
<rect x="370.50" y="116.67" width="11.60" height="8.03" fill="#ffd966" stroke="none" stroke-width="0"/>
<rect x="346.20" y="124.70" width="12.50" height="8.03" fill="#ffd966" stroke="none" stroke-width="0"/>
<rect x="370.50" y="124.70" width="11.60" height="8.03" fill="#ffd966" stroke="none" stroke-width="0"/>
<rect x="382.10" y="124.70" width="10.90" height="8.03" fill="#fff2cc" stroke="none" stroke-width="0"/>
<rect x="370.50" y="132.73" width="11.60" height="8.03" fill="#ffd966" stroke="none" stroke-width="0"/>
<rect x="346.20" y="140.77" width="12.50" height="8.03" fill="#fff2cc" stroke="none" stroke-width="0"/>
<rect x="370.50" y="140.77" width="11.60" height="8.03" fill="#ffd966" stroke="none" stroke-width="0"/>
<rect x="382.10" y="140.77" width="10.90" height="8.03" fill="#fff2cc" stroke="none" stroke-width="0"/>
<line x1="346.20" y1="20.30" x2="393.00" y2="20.30" stroke="#858585" stroke-width="1.0"/>
<line x1="346.20" y1="28.40" x2="393.00" y2="28.40" stroke="#858585" stroke-width="1.0"/>
<text transform="translate(369.60,24.65)" font-size="4.25" text-anchor="middle" dominant-baseline="central" font-weight="bold" fill="#222" stroke="#222" stroke-width="0.06" >Model type</text>
<text transform="translate(352.45,52.45) rotate(-90) scale(0.8928571428571428,1.0)" font-size="4.82" text-anchor="middle" dominant-baseline="central" font-weight="normal" fill="#222" stroke="#222" stroke-width="0.06" >Fragility function</text>
<text transform="translate(364.60,52.45) rotate(-90) scale(0.8928571428571428,1.0)" font-size="4.82" text-anchor="middle" dominant-baseline="central" font-weight="normal" fill="#222" stroke="#222" stroke-width="0.06" >Function - other</text>
<text transform="translate(376.30,52.45) rotate(-90) scale(0.8928571428571428,1.0)" font-size="4.82" text-anchor="middle" dominant-baseline="central" font-weight="normal" fill="#222" stroke="#222" stroke-width="0.06" >Threshold</text>
<text transform="translate(387.55,52.45) rotate(-90) scale(0.8928571428571428,1.0)" font-size="4.82" text-anchor="middle" dominant-baseline="central" font-weight="normal" fill="#222" stroke="#222" stroke-width="0.06" >Vulnerability function</text>
<line x1="346.20" y1="20.30" x2="346.20" y2="148.80" stroke="#858585" stroke-width="1.0"/>
<line x1="358.70" y1="28.40" x2="358.70" y2="148.80" stroke="#858585" stroke-width="1.0"/>
<line x1="370.50" y1="28.40" x2="370.50" y2="148.80" stroke="#858585" stroke-width="1.0"/>
<line x1="382.10" y1="28.40" x2="382.10" y2="148.80" stroke="#858585" stroke-width="1.0"/>
<line x1="393.00" y1="20.30" x2="393.00" y2="148.80" stroke="#858585" stroke-width="1.0"/>
<line x1="297.60" y1="76.50" x2="393.00" y2="76.50" stroke="#858585" stroke-width="1.0"/>
<line x1="305.50" y1="84.53" x2="393.00" y2="84.53" stroke="#858585" stroke-width="1.0"/>
<line x1="305.50" y1="92.57" x2="393.00" y2="92.57" stroke="#858585" stroke-width="1.0"/>
<line x1="305.50" y1="100.60" x2="393.00" y2="100.60" stroke="#858585" stroke-width="1.0"/>
<line x1="305.50" y1="108.63" x2="393.00" y2="108.63" stroke="#858585" stroke-width="1.0"/>
<line x1="305.50" y1="116.67" x2="393.00" y2="116.67" stroke="#858585" stroke-width="1.0"/>
<line x1="305.50" y1="124.70" x2="393.00" y2="124.70" stroke="#858585" stroke-width="1.0"/>
<line x1="305.50" y1="132.73" x2="393.00" y2="132.73" stroke="#858585" stroke-width="1.0"/>
<line x1="305.50" y1="140.77" x2="393.00" y2="140.77" stroke="#858585" stroke-width="1.0"/>
<line x1="297.60" y1="148.80" x2="393.00" y2="148.80" stroke="#858585" stroke-width="1.0"/>
<line x1="297.60" y1="76.50" x2="297.60" y2="148.80" stroke="#858585" stroke-width="1.0"/>
<line x1="305.50" y1="76.50" x2="305.50" y2="148.80" stroke="#858585" stroke-width="1.0"/>
<text transform="translate(301.55,112.65) rotate(-90)" font-size="4.00" text-anchor="middle" dominant-baseline="central" font-weight="bold" fill="#222" stroke="#222" stroke-width="0.06" >Sector</text>
<text transform="translate(325.85,81.82) scale(0.8928571428571428,1.0)" font-size="4.70" text-anchor="middle" dominant-baseline="central" font-weight="normal" fill="#222" stroke="#222" stroke-width="0.06" >Agriculture</text>
<text transform="translate(325.85,89.85) scale(0.8928571428571428,1.0)" font-size="4.70" text-anchor="middle" dominant-baseline="central" font-weight="normal" fill="#222" stroke="#222" stroke-width="0.06" >Buildings</text>
<text transform="translate(325.85,97.88) scale(0.8928571428571428,1.0)" font-size="4.70" text-anchor="middle" dominant-baseline="central" font-weight="normal" fill="#222" stroke="#222" stroke-width="0.06" >Clean-up</text>
<text transform="translate(325.85,105.92) scale(0.8928571428571428,1.0)" font-size="4.70" text-anchor="middle" dominant-baseline="central" font-weight="normal" fill="#222" stroke="#222" stroke-width="0.06" >Critical components</text>
<text transform="translate(325.85,113.95) scale(0.8928571428571428,1.0)" font-size="4.70" text-anchor="middle" dominant-baseline="central" font-weight="normal" fill="#222" stroke="#222" stroke-width="0.06" >Energy</text>
<text transform="translate(325.85,121.98) scale(0.8928571428571428,1.0)" font-size="4.70" text-anchor="middle" dominant-baseline="central" font-weight="normal" fill="#222" stroke="#222" stroke-width="0.06" >Living-beings</text>
<text transform="translate(325.85,130.02) scale(0.8928571428571428,1.0)" font-size="4.70" text-anchor="middle" dominant-baseline="central" font-weight="normal" fill="#222" stroke="#222" stroke-width="0.06" >Transportation</text>
<text transform="translate(325.85,138.05) scale(0.8928571428571428,1.0)" font-size="4.70" text-anchor="middle" dominant-baseline="central" font-weight="normal" fill="#222" stroke="#222" stroke-width="0.06" >Telecommunications</text>
<text transform="translate(325.85,146.08) scale(0.8928571428571428,1.0)" font-size="4.70" text-anchor="middle" dominant-baseline="central" font-weight="normal" fill="#222" stroke="#222" stroke-width="0.06" >Water</text>
<text transform="translate(352.45,81.82)" font-size="3.80" text-anchor="middle" dominant-baseline="central" font-weight="normal" fill="#222" stroke="#222" stroke-width="0.06" >13</text>
<text transform="translate(376.30,81.82)" font-size="3.80" text-anchor="middle" dominant-baseline="central" font-weight="normal" fill="#222" stroke="#222" stroke-width="0.06" >7</text>
<text transform="translate(387.55,81.82)" font-size="3.80" text-anchor="middle" dominant-baseline="central" font-weight="normal" fill="#222" stroke="#222" stroke-width="0.06" >27</text>
<text transform="translate(352.45,89.85)" font-size="3.80" text-anchor="middle" dominant-baseline="central" font-weight="normal" fill="#222" stroke="#222" stroke-width="0.06" >163</text>
<text transform="translate(364.60,89.85)" font-size="3.80" text-anchor="middle" dominant-baseline="central" font-weight="normal" fill="#222" stroke="#222" stroke-width="0.06" >2</text>
<text transform="translate(376.30,89.85)" font-size="3.80" text-anchor="middle" dominant-baseline="central" font-weight="normal" fill="#222" stroke="#222" stroke-width="0.06" >66</text>
<text transform="translate(387.55,89.85)" font-size="3.80" text-anchor="middle" dominant-baseline="central" font-weight="normal" fill="#222" stroke="#222" stroke-width="0.06" >42</text>
<text transform="translate(364.60,97.88)" font-size="3.80" text-anchor="middle" dominant-baseline="central" font-weight="normal" fill="#222" stroke="#222" stroke-width="0.06" >8</text>
<text transform="translate(376.30,97.88)" font-size="3.80" text-anchor="middle" dominant-baseline="central" font-weight="normal" fill="#222" stroke="#222" stroke-width="0.06" >9</text>
<text transform="translate(376.30,105.92)" font-size="3.80" text-anchor="middle" dominant-baseline="central" font-weight="normal" fill="#222" stroke="#222" stroke-width="0.06" >33</text>
<text transform="translate(387.55,105.92)" font-size="3.80" text-anchor="middle" dominant-baseline="central" font-weight="normal" fill="#222" stroke="#222" stroke-width="0.06" >2</text>
<text transform="translate(352.45,113.95)" font-size="3.80" text-anchor="middle" dominant-baseline="central" font-weight="normal" fill="#222" stroke="#222" stroke-width="0.06" >5</text>
<text transform="translate(376.30,113.95)" font-size="3.80" text-anchor="middle" dominant-baseline="central" font-weight="normal" fill="#222" stroke="#222" stroke-width="0.06" >52</text>
<text transform="translate(352.45,121.98)" font-size="3.80" text-anchor="middle" dominant-baseline="central" font-weight="normal" fill="#222" stroke="#222" stroke-width="0.06" >5</text>
<text transform="translate(364.60,121.98)" font-size="3.80" text-anchor="middle" dominant-baseline="central" font-weight="normal" fill="#222" stroke="#222" stroke-width="0.06" >5</text>
<text transform="translate(376.30,121.98)" font-size="3.80" text-anchor="middle" dominant-baseline="central" font-weight="normal" fill="#222" stroke="#222" stroke-width="0.06" >29</text>
<text transform="translate(352.45,130.02)" font-size="3.80" text-anchor="middle" dominant-baseline="central" font-weight="normal" fill="#222" stroke="#222" stroke-width="0.06" >14</text>
<text transform="translate(376.30,130.02)" font-size="3.80" text-anchor="middle" dominant-baseline="central" font-weight="normal" fill="#222" stroke="#222" stroke-width="0.06" >48</text>
<text transform="translate(387.55,130.02)" font-size="3.80" text-anchor="middle" dominant-baseline="central" font-weight="normal" fill="#222" stroke="#222" stroke-width="0.06" >3</text>
<text transform="translate(376.30,138.05)" font-size="3.80" text-anchor="middle" dominant-baseline="central" font-weight="normal" fill="#222" stroke="#222" stroke-width="0.06" >36</text>
<text transform="translate(352.45,146.08)" font-size="3.80" text-anchor="middle" dominant-baseline="central" font-weight="normal" fill="#222" stroke="#222" stroke-width="0.06" >2</text>
<text transform="translate(376.30,146.08)" font-size="3.80" text-anchor="middle" dominant-baseline="central" font-weight="normal" fill="#222" stroke="#222" stroke-width="0.06" >22</text>
<text transform="translate(387.55,146.08)" font-size="3.80" text-anchor="middle" dominant-baseline="central" font-weight="normal" fill="#222" stroke="#222" stroke-width="0.06" >1</text>
<text transform="translate(7.20,195.00)" font-size="8.60" text-anchor="middle" dominant-baseline="central" font-weight="bold" fill="#111" stroke="#111" stroke-width="0.25" >D</text>
<path d="M101.60,235.80 L101.60,196.30 A39.5,39.5 0 0 1 137.34,252.62 Z" fill="#2e5aa4" stroke="#fff" stroke-width="0.6"/>
<path d="M101.60,235.80 L137.34,252.62 A39.5,39.5 0 1 1 68.25,214.63 Z" fill="#233e72" stroke="#fff" stroke-width="0.6"/>
<path d="M101.60,235.80 L68.25,214.63 A39.5,39.5 0 0 1 82.57,201.19 Z" fill="#b8c9e8" stroke="#fff" stroke-width="0.6"/>
<path d="M101.60,235.80 L82.57,201.19 A39.5,39.5 0 0 1 101.60,196.30 Z" fill="#8faadc" stroke="#fff" stroke-width="0.6"/>
<text transform="translate(119.80,216.40)" font-size="4.50" text-anchor="middle" dominant-baseline="central" font-weight="bold" fill="#fff" stroke="#fff" stroke-width="0.05" >Expert</text>
<text transform="translate(119.80,222.70)" font-size="4.50" text-anchor="middle" dominant-baseline="central" font-weight="bold" fill="#fff" stroke="#fff" stroke-width="0.05" >judgement</text>
<text transform="translate(119.80,228.90)" font-size="4.50" text-anchor="middle" dominant-baseline="central" font-weight="bold" fill="#fff" stroke="#fff" stroke-width="0.05" >32%</text>
<text transform="translate(92.50,244.50)" font-size="4.40" text-anchor="middle" dominant-baseline="central" font-weight="bold" fill="#fff" stroke="#fff" stroke-width="0.05" >Hybrid</text>
<text transform="translate(92.50,250.60)" font-size="4.40" text-anchor="middle" dominant-baseline="central" font-weight="bold" fill="#fff" stroke="#fff" stroke-width="0.05" >52%</text>
<text transform="translate(94.40,207.30)" font-size="4.60" text-anchor="middle" dominant-baseline="central" font-weight="bold" fill="#e8eef8" >8%</text>
<text transform="translate(79.30,214.20)" font-size="4.60" text-anchor="middle" dominant-baseline="central" font-weight="bold" fill="#eef2fa" >8%</text>
<text transform="translate(78.00,196.60)" font-size="4.75" text-anchor="middle" dominant-baseline="central" font-weight="normal" fill="#333" stroke="#333" stroke-width="0.12" >Empirical</text>
<text transform="translate(61.50,206.00)" font-size="4.75" text-anchor="middle" dominant-baseline="central" font-weight="normal" fill="#333" stroke="#333" stroke-width="0.12" >Analytical</text>
<text transform="translate(207.20,195.20)" font-size="8.60" text-anchor="middle" dominant-baseline="central" font-weight="bold" fill="#111" stroke="#111" stroke-width="0.25" >E</text>
<rect x="260.00" y="190.80" width="104.70" height="78.10" fill="#fff" stroke="#cfcfcf" stroke-width="0.8"/>
<path d="M342.91,268.90 L342.91,207.00 L347.01,204.52 L350.80,202.05 L352.10,198.95 L355.40,197.34 L359.97,194.74 L359.97,268.90 Z" fill="#d994d6"/>
<path d="M304.39,268.90 L304.39,258.25 L312.69,255.65 L323.40,251.94 L327.19,246.24 L331.01,236.09 L332.29,232.26 L334.80,231.14 L339.99,229.16 L342.91,229.04 L342.91,222.60 L352.01,220.49 L352.29,218.27 L359.97,217.89 L359.97,268.90 Z" fill="#eeb54a"/>
<path d="M331.60,268.90 L331.60,259.37 L343.38,258.38 L359.97,256.89 L359.97,268.90 Z" fill="#2b2d7a"/>
<line x1="262.80" y1="268.90" x2="359.97" y2="268.90" stroke="#5e5560" stroke-width="0.8"/>
<line x1="258.40" y1="268.90" x2="260.00" y2="268.90" stroke="#555" stroke-width="0.6"/>
<text transform="translate(257.90,268.90)" font-size="4.70" text-anchor="end" dominant-baseline="central" font-weight="normal" fill="#222" stroke="#222" stroke-width="0.12" >0</text>
<line x1="258.40" y1="256.52" x2="260.00" y2="256.52" stroke="#555" stroke-width="0.6"/>
<text transform="translate(257.90,256.52)" font-size="4.70" text-anchor="end" dominant-baseline="central" font-weight="normal" fill="#222" stroke="#222" stroke-width="0.12" >100</text>
<line x1="258.40" y1="244.14" x2="260.00" y2="244.14" stroke="#555" stroke-width="0.6"/>
<text transform="translate(257.90,244.14)" font-size="4.70" text-anchor="end" dominant-baseline="central" font-weight="normal" fill="#222" stroke="#222" stroke-width="0.12" >200</text>
<line x1="258.40" y1="231.76" x2="260.00" y2="231.76" stroke="#555" stroke-width="0.6"/>
<text transform="translate(257.90,231.76)" font-size="4.70" text-anchor="end" dominant-baseline="central" font-weight="normal" fill="#222" stroke="#222" stroke-width="0.12" >300</text>
<line x1="258.40" y1="219.38" x2="260.00" y2="219.38" stroke="#555" stroke-width="0.6"/>
<text transform="translate(257.90,219.38)" font-size="4.70" text-anchor="end" dominant-baseline="central" font-weight="normal" fill="#222" stroke="#222" stroke-width="0.12" >400</text>
<line x1="258.40" y1="207.00" x2="260.00" y2="207.00" stroke="#555" stroke-width="0.6"/>
<text transform="translate(257.90,207.00)" font-size="4.70" text-anchor="end" dominant-baseline="central" font-weight="normal" fill="#222" stroke="#222" stroke-width="0.12" >500</text>
<line x1="258.40" y1="194.62" x2="260.00" y2="194.62" stroke="#555" stroke-width="0.6"/>
<text transform="translate(257.90,194.62)" font-size="4.70" text-anchor="end" dominant-baseline="central" font-weight="normal" fill="#222" stroke="#222" stroke-width="0.12" >600</text>
<line x1="262.80" y1="268.90" x2="262.80" y2="270.40" stroke="#555" stroke-width="0.6"/>
<text transform="translate(262.80,272.50)" font-size="4.60" text-anchor="middle" dominant-baseline="central" font-weight="normal" fill="#222" stroke="#222" stroke-width="0.12" >1980</text>
<line x1="286.50" y1="268.90" x2="286.50" y2="270.40" stroke="#555" stroke-width="0.6"/>
<text transform="translate(286.50,272.50)" font-size="4.60" text-anchor="middle" dominant-baseline="central" font-weight="normal" fill="#222" stroke="#222" stroke-width="0.12" >1990</text>
<line x1="310.20" y1="268.90" x2="310.20" y2="270.40" stroke="#555" stroke-width="0.6"/>
<text transform="translate(310.20,272.50)" font-size="4.60" text-anchor="middle" dominant-baseline="central" font-weight="normal" fill="#222" stroke="#222" stroke-width="0.12" >2000</text>
<line x1="333.90" y1="268.90" x2="333.90" y2="270.40" stroke="#555" stroke-width="0.6"/>
<text transform="translate(333.90,272.50)" font-size="4.60" text-anchor="middle" dominant-baseline="central" font-weight="normal" fill="#222" stroke="#222" stroke-width="0.12" >2010</text>
<line x1="357.60" y1="268.90" x2="357.60" y2="270.40" stroke="#555" stroke-width="0.6"/>
<text transform="translate(357.60,272.50)" font-size="4.60" text-anchor="middle" dominant-baseline="central" font-weight="normal" fill="#222" stroke="#222" stroke-width="0.12" >2020</text>
<text transform="translate(312.00,278.00)" font-size="5.20" text-anchor="middle" dominant-baseline="central" font-weight="bold" fill="#111" stroke="#111" stroke-width="0.10" >Year</text>
<text transform="translate(245.20,230.40) rotate(-90)" font-size="4.40" text-anchor="middle" dominant-baseline="central" font-weight="bold" fill="#111" stroke="#111" stroke-width="0.10" >Cumulative models</text>
<rect x="263.60" y="193.60" width="7.00" height="3.10" fill="#eeb54a" stroke="none" stroke-width="0"/>
<text transform="translate(272.30,195.80)" font-size="4.75" text-anchor="start" dominant-baseline="central" font-weight="normal" fill="#111" stroke="#111" stroke-width="0.10" >Quantitative</text>
<rect x="263.60" y="198.05" width="7.00" height="3.10" fill="#d994d6" stroke="none" stroke-width="0"/>
<text transform="translate(272.30,200.25)" font-size="4.75" text-anchor="start" dominant-baseline="central" font-weight="normal" fill="#111" stroke="#111" stroke-width="0.10" >Semi-quantitative</text>
<rect x="263.60" y="202.50" width="7.00" height="3.10" fill="#2b2d7a" stroke="none" stroke-width="0"/>
<text transform="translate(272.30,204.70)" font-size="4.75" text-anchor="start" dominant-baseline="central" font-weight="normal" fill="#111" stroke="#111" stroke-width="0.10" >Qualitative</text>
<line x1="0.00" y1="2.20" x2="400.00" y2="2.20" stroke="#111" stroke-width="1.7"/>
<line x1="1.20" y1="1.40" x2="1.20" y2="283.00" stroke="#111" stroke-width="1.6"/>
<line x1="399.00" y1="1.40" x2="399.00" y2="283.00" stroke="#111" stroke-width="1.7"/>
<line x1="0.00" y1="282.20" x2="400.00" y2="282.20" stroke="#111" stroke-width="1.7"/>
<line x1="141.60" y1="1.40" x2="141.60" y2="188.30" stroke="#111" stroke-width="1.6"/>
<line x1="291.30" y1="1.40" x2="291.30" y2="188.30" stroke="#111" stroke-width="1.6"/>
<line x1="0.00" y1="188.20" x2="400.00" y2="188.20" stroke="#111" stroke-width="1.7"/>
<line x1="200.00" y1="188.20" x2="200.00" y2="283.00" stroke="#111" stroke-width="1.6"/>
</g></svg></div>
</body></html>
